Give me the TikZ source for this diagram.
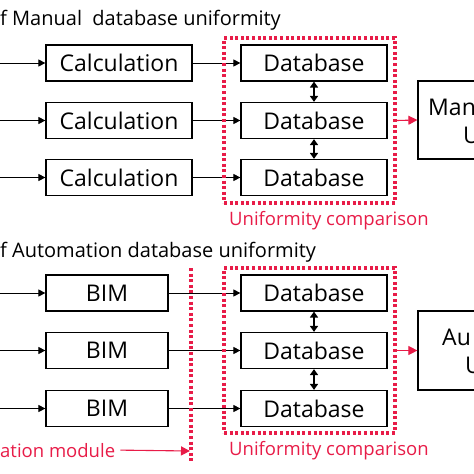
\documentclass[tikz,border=0pt]{standalone}
\usepackage{fontspec}
\setmainfont{Open Sans}
\usepackage{tikz}
\usetikzlibrary{arrows.meta}
\definecolor{markred}{RGB}{232,28,72}

\begin{document}
\begin{tikzpicture}[x=1pt,y=-1pt,
    box/.style={draw=black,line width=1.2pt,minimum height=36pt,inner sep=0pt,font=\fontsize{23}{23}\selectfont},
    flow/.style={-{Triangle[length=7pt,width=7pt]},line width=0.9pt},
    link/.style={{Triangle[length=6pt,width=8pt]}-{Triangle[length=6pt,width=8pt]},line width=1.5pt},
    redflow/.style={markred,-{Triangle[length=9pt,width=9pt]},line width=1.1pt},
    dots/.style={draw=markred,line width=3.2pt,dash pattern=on 3pt off 2.6pt},
    title/.style={anchor=base west,inner sep=0pt,font=\fontsize{20}{20}\selectfont},
    note/.style={anchor=base west,inner sep=0pt,text=markred,font=\fontsize{18.5}{18.5}\selectfont},
    part/.style={anchor=base west,inner sep=0pt,font=\fontsize{23}{23}\selectfont}]
    \fill[white,use as bounding box] (0,0) rectangle (474,474);
    \clip (0,0) rectangle (474,474);

    % manual
    \node[title] (t1) at (0,25) {f Manual\ \ database uniformity};
    \node[box,minimum width=146pt] (c1) at (119,63) {Calculation};
    \node[box,minimum width=146pt] (c2) at (119,120.5) {Calculation};
    \node[box,minimum width=146pt] (c3) at (119,177.5) {Calculation};
    \node[box,minimum width=146pt] (d1) at (314,63) {Database};
    \node[box,minimum width=146pt] (d2) at (314,120.5) {Database};
    \node[box,minimum width=146pt] (d3) at (314,177.5) {Database};
    \node[box,minimum width=112pt,minimum height=78pt] (mu) at (474,120) {};
    \node[part] (mu1) at (428,115) {Man};
    \node[part] (mu2) at (463,143) {U};
    \coordinate (i1) at (0,63);
    \coordinate (i2) at (0,120.5);
    \coordinate (i3) at (0,177.5);
    \draw[flow] (i1) -- (c1);
    \draw[flow] (i2) -- (c2);
    \draw[flow] (i3) -- (c3);
    \draw[flow] (c1) -- (d1);
    \draw[flow] (c2) -- (d2);
    \draw[flow] (c3) -- (d3);
    \draw[link] (d1) -- (d2);
    \draw[link] (d2) -- (d3);
    \node[dots,minimum width=171pt,minimum height=165pt] (u1) at (309.5,120.5) {};
    \draw[redflow] (u1.east) -- (mu.west);
    \node[note] (n1) at (229,225) {Uniformity comparison};

    % automation
    \node[title] (t2) at (0,257) {f Automation database uniformity};
    \node[box,minimum width=122pt] (b1) at (107,293) {BIM};
    \node[box,minimum width=122pt] (b2) at (107,350.5) {BIM};
    \node[box,minimum width=122pt] (b3) at (107,408.5) {BIM};
    \node[box,minimum width=146pt] (e1) at (314,293) {Database};
    \node[box,minimum width=146pt] (e2) at (314,350.5) {Database};
    \node[box,minimum width=146pt] (e3) at (314,408.5) {Database};
    \node[box,minimum width=112pt,minimum height=79pt] (au) at (474,350.5) {};
    \node[part] (au1) at (442,345) {Au};
    \node[part] (au2) at (465,373) {U};
    \coordinate (j1) at (0,293);
    \coordinate (j2) at (0,350.5);
    \coordinate (j3) at (0,408.5);
    \draw[flow] (j1) -- (b1);
    \draw[flow] (j2) -- (b2);
    \draw[flow] (j3) -- (b3);
    \draw[flow] (b1) -- (e1);
    \draw[flow] (b2) -- (e2);
    \draw[flow] (b3) -- (e3);
    \draw[link] (e1) -- (e2);
    \draw[link] (e2) -- (e3);
    \node[dots,minimum width=171pt,minimum height=165pt] (u2) at (309.5,350.5) {};
    \draw[redflow] (u2.east) -- (au.west);
    \node[note] (n2) at (229,455) {Uniformity comparison};
    \coordinate (mtop) at (191,268);
    \coordinate (mbot) at (191,463);
    \draw[dots] (mtop) -- (mbot);
    \node[note] (mn) at (0,457) {ation module};
    \coordinate (mtip) at (190,451);
    \draw[redflow,shorten <=5pt] (mn.east) -- (mtip);
\end{tikzpicture}
\end{document}
